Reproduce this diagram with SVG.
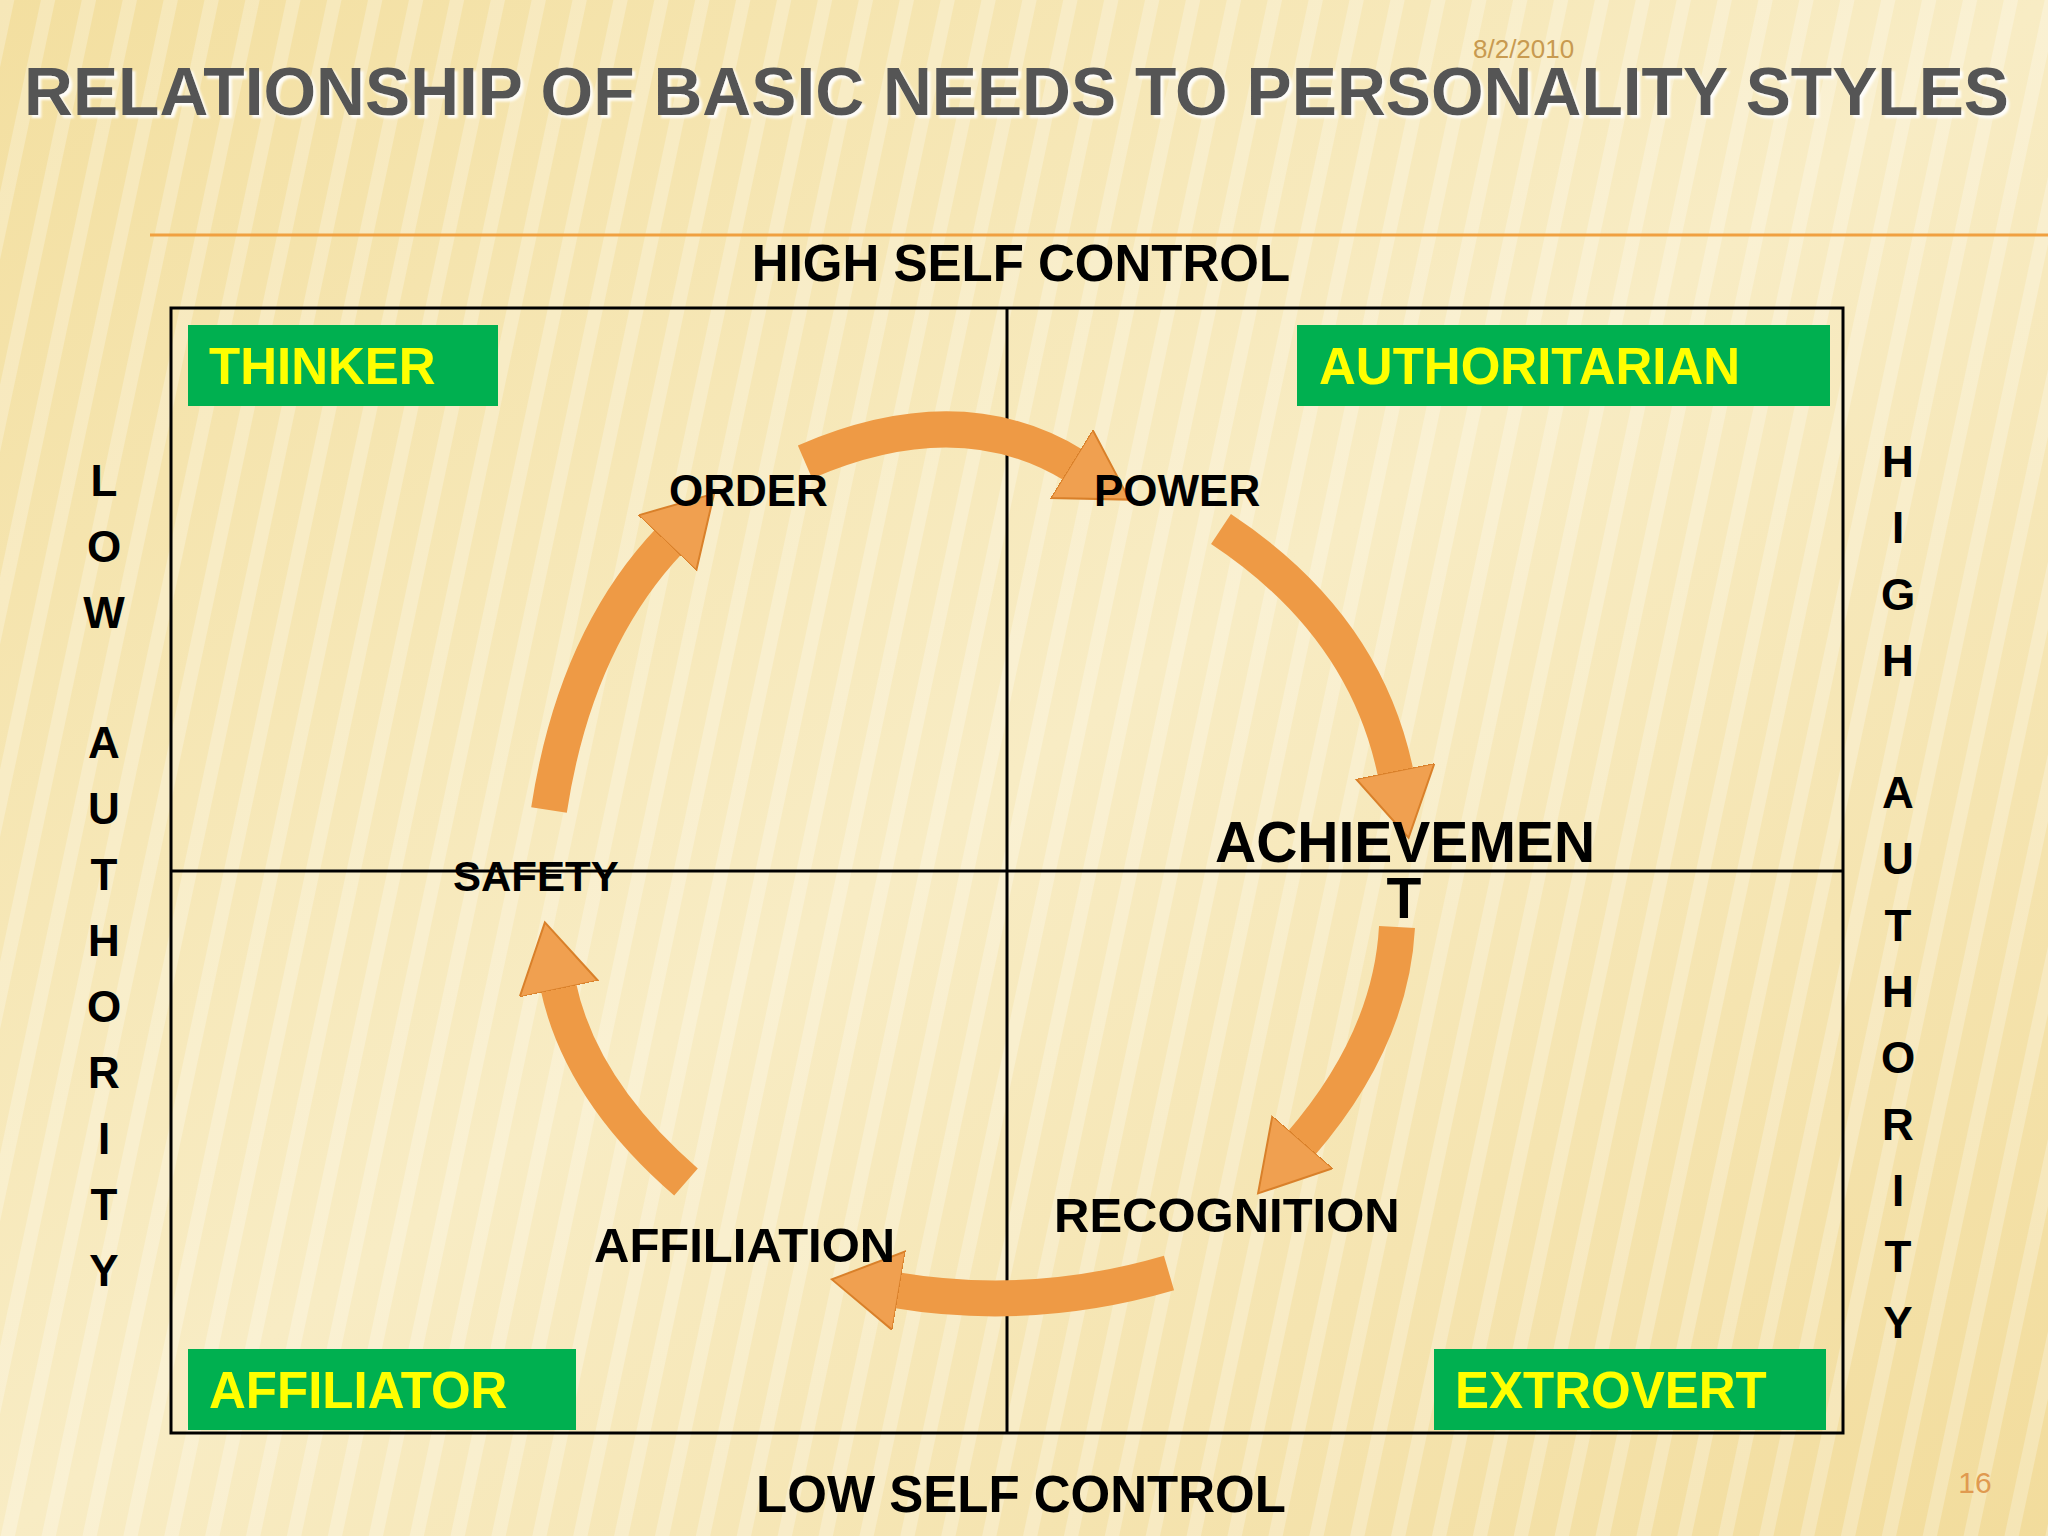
<svg xmlns="http://www.w3.org/2000/svg" width="2048" height="1536" viewBox="0 0 2048 1536">
<defs>
<linearGradient id="bg" x1="0" y1="0" x2="1" y2="1">
<stop offset="0" stop-color="#f3dfa0"/><stop offset="0.5" stop-color="#f8ecc4"/><stop offset="1" stop-color="#f2dc9c"/>
</linearGradient>
<pattern id="st" width="40" height="40" patternUnits="userSpaceOnUse" patternTransform="rotate(12)">
<rect width="14" height="40" fill="#ffffff" opacity="0.25"/>
</pattern>
<marker id="head" markerUnits="userSpaceOnUse" markerWidth="80" markerHeight="90" refX="4" refY="40" orient="auto">
<path d="M0,0 L68,40 L0,80 Z" fill="#f0a050" stroke="#d9802a" stroke-width="2"/>
</marker>
<filter id="sh"><feDropShadow dx="3" dy="3" stdDeviation="1" flood-color="#ffffff" flood-opacity="0.9"/></filter>
<style>
.t{font-family:"Liberation Sans",Arial,sans-serif;font-weight:bold;fill:#000}
.lab{font-family:"Liberation Sans",Arial,sans-serif;font-weight:bold;fill:#ffff00;font-size:51px}
.g{fill:#00b050}
.v{font-family:"Liberation Sans",Arial,sans-serif;font-weight:bold;font-size:44px;text-anchor:middle}
.arrow{fill:none;stroke:#ee9a45;stroke-width:36;stroke-linecap:butt;marker-end:url(#head)}
</style>
</defs>
<rect width="2048" height="1536" fill="url(#bg)"/>
<rect width="2048" height="1536" fill="url(#st)"/>
<text x="24" y="115" font-family="Liberation Sans,Arial,sans-serif" font-weight="bold" font-size="68" fill="#555" textLength="1985" lengthAdjust="spacingAndGlyphs" filter="url(#sh)">RELATIONSHIP OF BASIC NEEDS TO PERSONALITY STYLES</text>
<text x="1473" y="58" font-family="Liberation Sans,Arial,sans-serif" font-size="26" fill="#c89a50">8/2/2010</text>
<line x1="150" y1="235" x2="2048" y2="235" stroke="#f0a040" stroke-width="3"/>
<text class="t" x="1021" y="281" font-size="51" text-anchor="middle">HIGH SELF CONTROL</text>
<text class="t" x="1021" y="1512" font-size="51" text-anchor="middle">LOW SELF CONTROL</text>
<text x="1975" y="1493" font-family="Liberation Sans,Arial,sans-serif" font-size="30" fill="#e09a50" text-anchor="middle">16</text>
<g id="grid" stroke="#000" stroke-width="3" fill="none">
<rect x="171" y="308" width="1672" height="1125"/>
<line x1="1007" y1="308" x2="1007" y2="1433"/>
<line x1="171" y1="871" x2="1843" y2="871"/>
</g>
<g id="thinker"><rect class="g" x="188" y="325" width="310" height="81"/><text class="lab" x="209" y="384">THINKER</text></g>
<g id="authoritarian"><rect class="g" x="1297" y="325" width="533" height="81"/><text class="lab" x="1319" y="384">AUTHORITARIAN</text></g>
<g id="affiliator"><rect class="g" x="188" y="1349" width="388" height="81"/><text class="lab" x="209" y="1408">AFFILIATOR</text></g>
<g id="extrovert"><rect class="g" x="1434" y="1349" width="392" height="81"/><text class="lab" x="1455" y="1408">EXTROVERT</text></g>
<g id="low-authority" class="v">
<text x="104" y="496">L</text><text x="104" y="562">O</text><text x="104" y="628">W</text>
<text x="104" y="758">A</text><text x="104" y="824">U</text><text x="104" y="890">T</text><text x="104" y="956">H</text><text x="104" y="1022">O</text><text x="104" y="1088">R</text><text x="104" y="1154">I</text><text x="104" y="1220">T</text><text x="104" y="1286">Y</text>
</g>
<g id="high-authority" class="v">
<text x="1898" y="477">H</text><text x="1898" y="543">I</text><text x="1898" y="610">G</text><text x="1898" y="676">H</text>
<text x="1898" y="808">A</text><text x="1898" y="874">U</text><text x="1898" y="941">T</text><text x="1898" y="1007">H</text><text x="1898" y="1073">O</text><text x="1898" y="1140">R</text><text x="1898" y="1206">I</text><text x="1898" y="1272">T</text><text x="1898" y="1338">Y</text>
</g>
<g id="connectors">
<path class="arrow" d="M805,462 Q960,395 1075,466"/>
<path class="arrow" d="M1221,529 Q1366,625 1396,775"/>
<path class="arrow" d="M1397,927 Q1391,1040 1300,1145"/>
<path class="arrow" d="M1169,1273 Q1032,1313 895,1290"/>
<path class="arrow" d="M686,1182 Q580,1090 558,985"/>
<path class="arrow" d="M549,810 Q575,640 670,540"/>
</g>
<g id="labels" class="t">
<text x="669" y="506" font-size="44">ORDER</text>
<text x="1094" y="506" font-size="44">POWER</text>
<text x="1215" y="862" font-size="57">ACHIEVEMEN</text>
<text x="1404" y="918" font-size="57" text-anchor="middle">T</text>
<text x="453" y="891" font-size="42">SAFETY</text>
<text x="594" y="1262" font-size="49">AFFILIATION</text>
<text x="1054" y="1232" font-size="49">RECOGNITION</text>
</g>
</svg>
